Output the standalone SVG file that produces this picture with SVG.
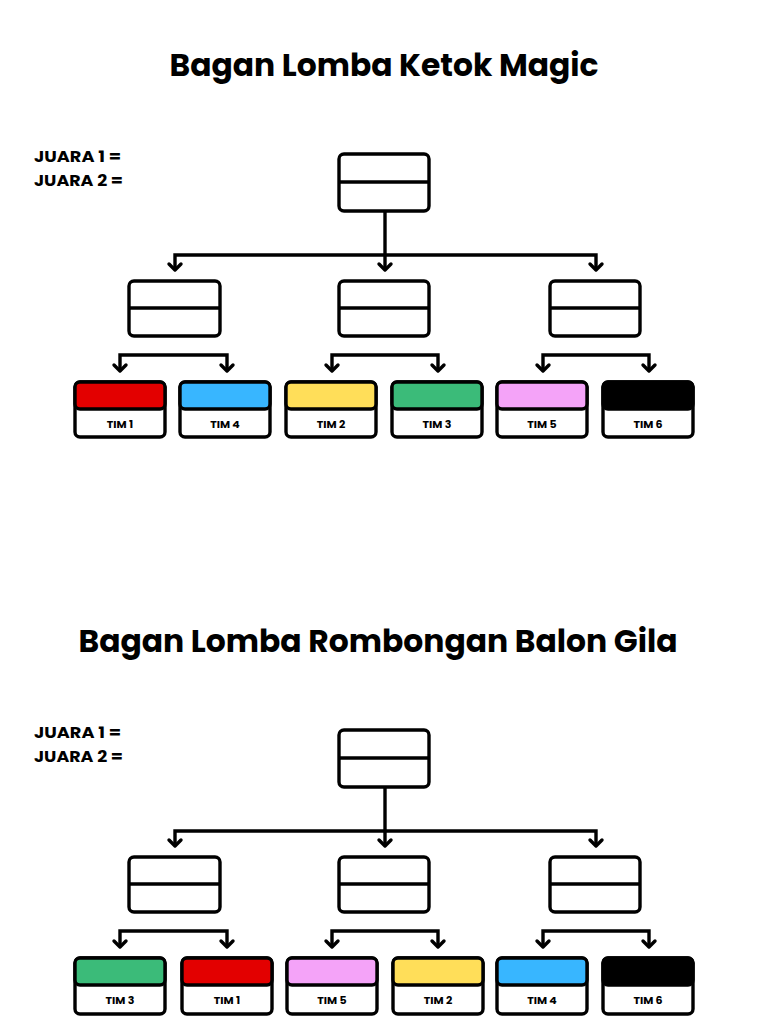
<svg xmlns="http://www.w3.org/2000/svg" width="768" height="1024" viewBox="0 0 768 1024">
<style>
.title{font-family:"Poppins","Inter","Liberation Sans",sans-serif;font-weight:700;font-size:32px;fill:#000}
.juara{font-family:"Poppins","Inter","Liberation Sans",sans-serif;font-weight:700;font-size:15.5px;fill:#000}
.box{fill:#fff;stroke:#000;stroke-width:3.4}
.div{stroke:#000;stroke-width:3.4}
.con{fill:none;stroke:#000;stroke-width:3.4}
.lbl{font-family:"Poppins","Inter","Liberation Sans",sans-serif;font-weight:700;font-size:11px;fill:#000;text-anchor:middle}
</style>
<defs>
<marker id="ah" markerUnits="userSpaceOnUse" markerWidth="20" markerHeight="20" viewBox="-10 -10 20 20" refX="0" refY="0" orient="auto-start-reverse">
<path d="M-6,-6 L0,0 L-6,6" fill="none" stroke="#000" stroke-width="3.4" stroke-linecap="round" stroke-linejoin="round"/>
</marker>
</defs>

<!-- ===== Section 1 ===== -->
<text class="title" x="384" y="76" text-anchor="middle" textLength="429" lengthAdjust="spacingAndGlyphs">Bagan Lomba Ketok Magic</text>
<text class="juara" x="34" y="162" textLength="87" lengthAdjust="spacingAndGlyphs">JUARA 1 =</text>
<text class="juara" x="34" y="186" textLength="89" lengthAdjust="spacingAndGlyphs">JUARA 2 =</text>

<g id="connectors-1">
<path class="con" d="M385 211 V270" marker-end="url(#ah)"/>
<path class="con" d="M385 255 H175 V270" marker-end="url(#ah)"/>
<path class="con" d="M385 255 H596 V270" marker-end="url(#ah)"/>
<path class="con" d="M120 371 V355 H227 V371" marker-start="url(#ah)" marker-end="url(#ah)"/>
<path class="con" d="M332 371 V355 H438 V371" marker-start="url(#ah)" marker-end="url(#ah)"/>
<path class="con" d="M543 371 V355 H649 V371" marker-start="url(#ah)" marker-end="url(#ah)"/>
</g>

<g id="final-1"><rect class="box" x="339" y="154" width="90" height="57" rx="5"/><line class="div" x1="339" y1="182" x2="429" y2="182"/></g>
<g id="semi-1a"><rect class="box" x="129" y="281" width="91" height="55" rx="5"/><line class="div" x1="129" y1="308" x2="220" y2="308"/></g>
<g id="semi-1b"><rect class="box" x="339" y="281" width="90" height="55" rx="5"/><line class="div" x1="339" y1="308" x2="429" y2="308"/></g>
<g id="semi-1c"><rect class="box" x="550" y="281" width="90" height="55" rx="5"/><line class="div" x1="550" y1="308" x2="640" y2="308"/></g>

<g id="t1-tim1"><rect class="box" x="75" y="382" width="90" height="55" rx="5"/><rect x="75" y="382" width="90" height="27" rx="5" fill="#e30000" stroke="#000" stroke-width="3.4"/><text class="lbl" x="120" y="428">TIM 1</text></g>
<g id="t1-tim4"><rect class="box" x="180" y="382" width="90" height="55" rx="5"/><rect x="180" y="382" width="90" height="27" rx="5" fill="#38b6ff" stroke="#000" stroke-width="3.4"/><text class="lbl" x="225" y="428">TIM 4</text></g>
<g id="t1-tim2"><rect class="box" x="286" y="382" width="90" height="55" rx="5"/><rect x="286" y="382" width="90" height="27" rx="5" fill="#ffde59" stroke="#000" stroke-width="3.4"/><text class="lbl" x="331" y="428">TIM 2</text></g>
<g id="t1-tim3"><rect class="box" x="392" y="382" width="90" height="55" rx="5"/><rect x="392" y="382" width="90" height="27" rx="5" fill="#3bbb79" stroke="#000" stroke-width="3.4"/><text class="lbl" x="437" y="428">TIM 3</text></g>
<g id="t1-tim5"><rect class="box" x="497" y="382" width="90" height="55" rx="5"/><rect x="497" y="382" width="90" height="27" rx="5" fill="#f4a3f8" stroke="#000" stroke-width="3.4"/><text class="lbl" x="542" y="428">TIM 5</text></g>
<g id="t1-tim6"><rect class="box" x="603" y="382" width="90" height="55" rx="5"/><rect x="603" y="382" width="90" height="27" rx="5" fill="#000" stroke="#000" stroke-width="3.4"/><text class="lbl" x="648" y="428">TIM 6</text></g>

<!-- ===== Section 2 ===== -->
<text class="title" x="378" y="652" text-anchor="middle" textLength="599" lengthAdjust="spacingAndGlyphs">Bagan Lomba Rombongan Balon Gila</text>
<text class="juara" x="34" y="738" textLength="87" lengthAdjust="spacingAndGlyphs">JUARA 1 =</text>
<text class="juara" x="34" y="762" textLength="89" lengthAdjust="spacingAndGlyphs">JUARA 2 =</text>

<g id="connectors-2">
<path class="con" d="M385 787 V846" marker-end="url(#ah)"/>
<path class="con" d="M385 831 H175 V846" marker-end="url(#ah)"/>
<path class="con" d="M385 831 H596 V846" marker-end="url(#ah)"/>
<path class="con" d="M120 947 V931 H227 V947" marker-start="url(#ah)" marker-end="url(#ah)"/>
<path class="con" d="M332 947 V931 H438 V947" marker-start="url(#ah)" marker-end="url(#ah)"/>
<path class="con" d="M543 947 V931 H649 V947" marker-start="url(#ah)" marker-end="url(#ah)"/>
</g>

<g id="final-2"><rect class="box" x="339" y="730" width="90" height="57" rx="5"/><line class="div" x1="339" y1="758" x2="429" y2="758"/></g>
<g id="semi-2a"><rect class="box" x="129" y="857" width="91" height="55" rx="5"/><line class="div" x1="129" y1="884" x2="220" y2="884"/></g>
<g id="semi-2b"><rect class="box" x="339" y="857" width="90" height="55" rx="5"/><line class="div" x1="339" y1="884" x2="429" y2="884"/></g>
<g id="semi-2c"><rect class="box" x="550" y="857" width="90" height="55" rx="5"/><line class="div" x1="550" y1="884" x2="640" y2="884"/></g>

<g id="t2-tim3"><rect class="box" x="75" y="958" width="90" height="56" rx="5"/><rect x="75" y="958" width="90" height="27" rx="5" fill="#3bbb79" stroke="#000" stroke-width="3.4"/><text class="lbl" x="120" y="1004">TIM 3</text></g>
<g id="t2-tim1"><rect class="box" x="182" y="958" width="90" height="56" rx="5"/><rect x="182" y="958" width="90" height="27" rx="5" fill="#e30000" stroke="#000" stroke-width="3.4"/><text class="lbl" x="227" y="1004">TIM 1</text></g>
<g id="t2-tim5"><rect class="box" x="287" y="958" width="90" height="56" rx="5"/><rect x="287" y="958" width="90" height="27" rx="5" fill="#f4a3f8" stroke="#000" stroke-width="3.4"/><text class="lbl" x="332" y="1004">TIM 5</text></g>
<g id="t2-tim2"><rect class="box" x="393" y="958" width="90" height="56" rx="5"/><rect x="393" y="958" width="90" height="27" rx="5" fill="#ffde59" stroke="#000" stroke-width="3.4"/><text class="lbl" x="438" y="1004">TIM 2</text></g>
<g id="t2-tim4"><rect class="box" x="497" y="958" width="90" height="56" rx="5"/><rect x="497" y="958" width="90" height="27" rx="5" fill="#38b6ff" stroke="#000" stroke-width="3.4"/><text class="lbl" x="542" y="1004">TIM 4</text></g>
<g id="t2-tim6"><rect class="box" x="603" y="958" width="90" height="56" rx="5"/><rect x="603" y="958" width="90" height="27" rx="5" fill="#000" stroke="#000" stroke-width="3.4"/><text class="lbl" x="648" y="1004">TIM 6</text></g>
</svg>
